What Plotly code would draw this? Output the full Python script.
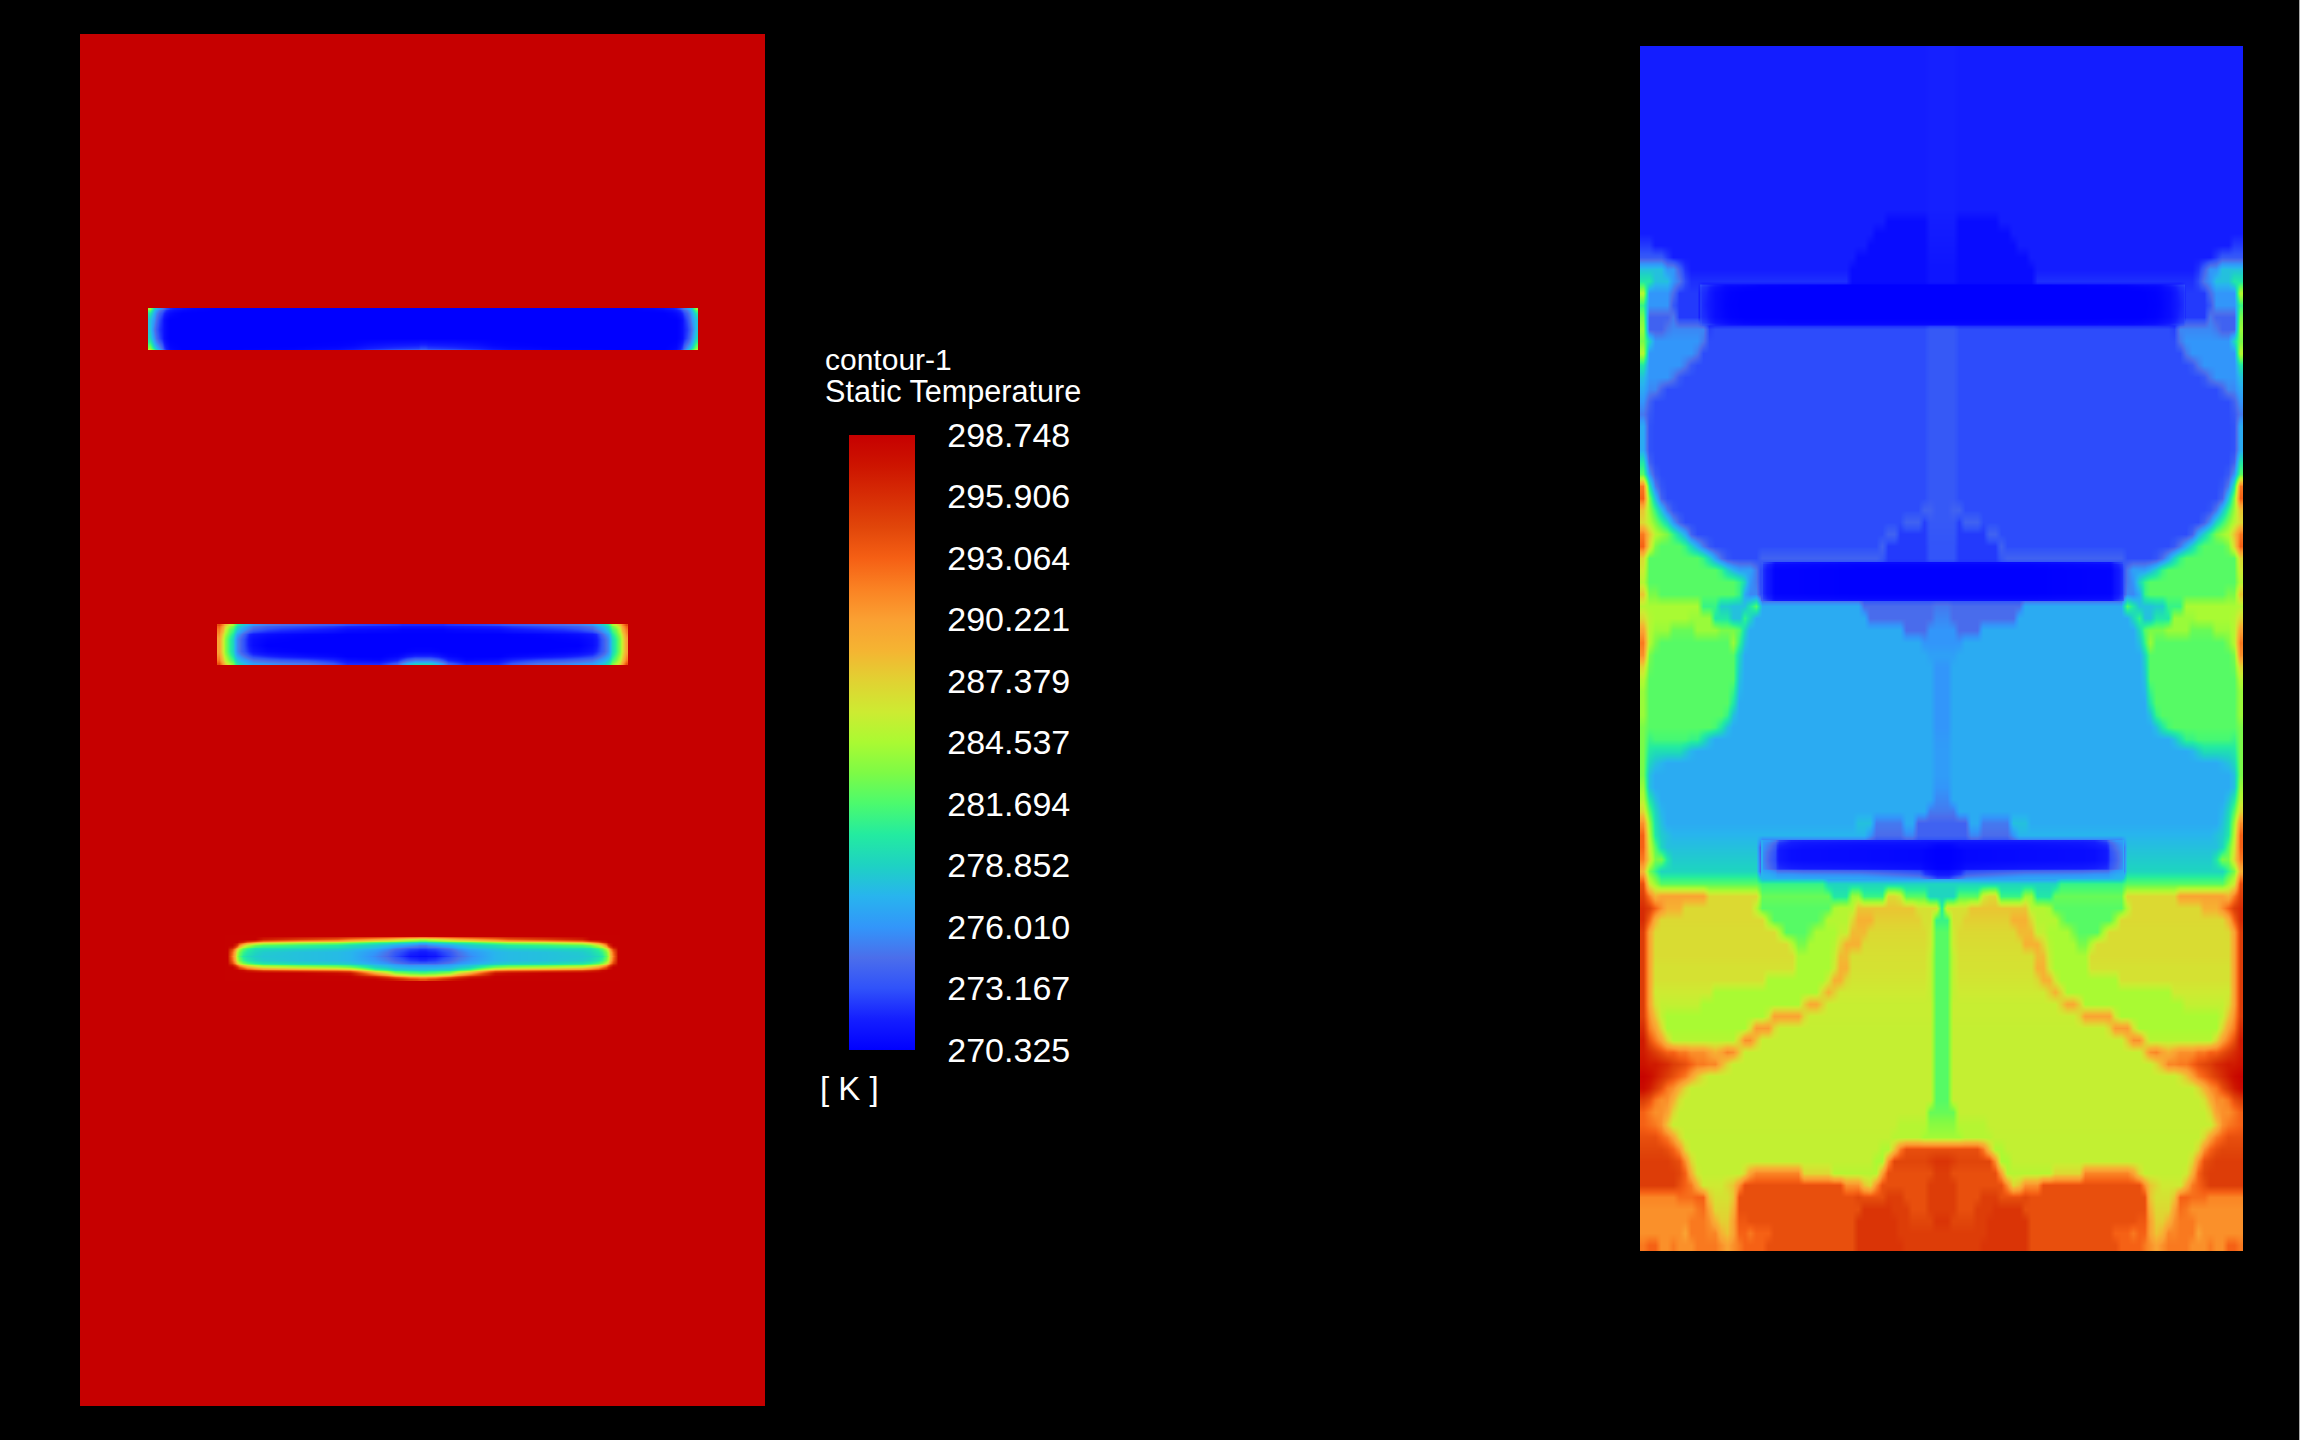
import plotly.graph_objects as go

W, H = 2304, 1440
TMIN, TMAX = 270.325, 298.748
TICK_VALUES = [298.748, 295.906, 293.064, 290.221, 287.379, 284.537, 281.694, 278.852, 276.010, 273.167, 270.325]
TICK_LABELS = ["298.748", "295.906", "293.064", "290.221", "287.379", "284.537", "281.694", "278.852", "276.010", "273.167", "270.325"]

RAINBOW = [(0,0,255),(20,30,255),(48,82,250),(75,110,235),(50,150,250),(40,180,238),(30,210,195),
           (35,235,160),(75,250,110),(125,250,70),(170,250,50),(205,235,50),(225,210,50),(245,180,50),
           (250,160,50),(250,130,35),(245,95,20),(225,70,10),(215,45,5),(205,20,0),(198,0,0)]

# Left panel: background and three cold bands (half-width tables, mirrored)
LEFT_BACKGROUND = [[298.748, 298.748], [298.748, 298.748]]

BAND1_X = [0,4,8,14,18,26,44,96,190,220,270,275]
BAND1_Y = [0,2,8,16,26,34,40,42]
BAND1_T = [
 [284,279,276,274,272,271,270.3,270.3,270.3,270.3,270.3],
 [280,277,274,272,270.8,270.3,270.3,270.3,270.3,270.3,270.3],
 [278,276,273,271,270.3,270.3,270.3,270.3,270.3,270.3,270.3],
 [278,275,272.5,271,270.3,270.3,270.3,270.3,270.3,270.3,270.3],
 [279,276,273,271,270.3,270.3,270.3,270.3,270.3,270.3,270.3],
 [282,278,275,272,270.5,270.3,270.3,270.3,270.6,271.5,272],
 [285,281,277,273,270.8,270.3,270.3,270.5,271.5,273,274],
]

BAND2_X = [0,4,8,16,20,28,36,64,116,144,180,190,205.5]
BAND2_Y = [0,2,8,12,18,24,30,34,38,41]
BAND2_T = [
 [294,291,286,282,279,277,275,274,273,272.5,272,272],
 [292,289,283,280,277,275,273,272,271,270.8,270.5,270.5],
 [291,287,282,278,275,272,271,270.5,270.3,270.3,270.3,270.3],
 [290,286,281,277,274,271.5,270.5,270.3,270.3,270.3,270.3,270.3],
 [290,286,281,277,274,271.5,270.3,270.3,270.3,270.3,270.3,270.3],
 [290,286,281,277,274,272,270.6,270.3,270.3,270.3,270.3,270.5],
 [291,287,282,278,275.5,273.5,272,271,270.3,270.3,271,272],
 [292,288,283,279.5,277,275.5,274,273,271,270.6,273,275],
 [294,290,285,281,278.5,277,276,275,272,272,276,279],
]

BAND3_X = [0,4,10,14,22,38,112,138,162,178,192,197.5]
BAND3_Y = [0,2,6,8,12,14,20,22,28,30,34,36,40,42,46]
BAND3_T = [
 [298.7,298.7,298.7,298.7,298.7,298.7,298.7,298.7,298.7,298.7,298.7],
 [298.7,298.7,298.7,298.7,298.7,295,292,290,288,286,285],
 [298.7,298.7,298.7,296,291,286,284,282,281,280,279],
 [298.7,298.7,295,288,283,281,279.5,278.5,277,276,275],
 [298.7,296,289,283,280,279.5,278.5,277.5,275,273.5,273],
 [298.7,293,285,281,279,278,277.5,276,273.5,272,271.5],
 [298.7,292,284,280,278.5,278,277.5,275.5,273,271.2,270.8],
 [298.7,293,285,281,279,278,277.5,276,274,272.5,272],
 [298.7,296,290,285,282,280,279,277.5,276,275,275],
 [298.7,298.7,296,292,288,285,283,279,277.5,277,277],
 [298.7,298.7,298.7,298,295.5,293,291,283,279.5,279,278.5],
 [298.7,298.7,298.7,298.7,298.7,298.7,297.5,290,284,282.5,282],
 [298.7,298.7,298.7,298.7,298.7,298.7,298.7,296,291,288,287.5],
 [298.7,298.7,298.7,298.7,298.7,298.7,298.7,298.7,297,295,294],
]

# Right panel: left half of the symmetric field, one entry per row.
# Each row lists runs as: last column of the run, temperature, ...
FIELD_RUNS = [[47,271.7,50,271.8]] * 14 + [
 [40,271.7,47,270.9,50,271.7],
 [38,271.7,47,270.9,50,271.6],
 [1,272.5,37,271.7,47,270.9,50,271.5],
 [3,273.5,4,272.5,35,271.7,47,270.9,50,271.4],
 [3,278,5,276,6,274,7,272.3,34,271.7,47,270.9,50,271.3],
 [1,280,4,278,5,276,6,275,7,273,34,272.2,47,270.9,50,271.3],
 [0,285,4,276,5,274.5,9,272.5,50,270.3],
 [0,281,4,276,5,273.5,9,272.5,50,270.3],
 [0,283,4,274,5,275,9,272.5,50,270.3],
 [0,284,3,274,4,275,10,275.5,11,272.7,47,273,50,273.5],
 [0,283,1,279,9,276,10,275,11,273,47,273,50,273.5],
 [0,285,8,276,9,275,10,273,47,273,50,273.5],
 [0,280,6,276,7,275,8,273.5,47,273,50,273.5],
 [0,278,4,276,5,275,6,273.5,47,273,50,273.5],
 [0,277,2,275.5,3,274,47,273,50,273.5],
 [0,276,1,274,47,273,50,273.5],
 [0,275,1,273.5,47,273,50,273.5],
 [0,277,1,273.2,47,273,50,273.5],
 [0,277,1,273.2,47,273,50,273.5],
 [0,277,1,273.2,47,273,50,273.5],
 [0,280,1,274,47,273,50,273.5],
 [0,282,1,276,2,273.5,47,273,50,273.5],
 [0,292,1,280,2,275,3,273.3,47,273,50,273.5],
 [0,293,1,283,2,278,3,274,47,273,50,273.5],
 [0,288,1,284,2,281,3,278,4,275,5,273.3,46,273,48,274,50,273.5],
 [0,287,1,285,2,283,3,281,4,279,5,276,6,274,43,273,46,274,47,272.6,50,273.5],
 [0,292,1,288,2,285,3,284,4,283,5,281,6,279,7,277,8,274,40,273,42,274,47,272.5,50,273.4],
 [0,293,1,287,2,283,6,282,7,281,8,279,9,277,10,275,11,273.5,39,273,40,274,47,272.5,50,273.3],
 [0,287,9,282,10,281,11,279,12,276.5,13,274.5,14,273.3,19,273,39,274,40,273.5,47,272.5,50,273.3],
 [0,286,12,282,13,281,14,279,15,277.5,18,276.5,19,275,50,272],
 [0,285,15,282,16,281,17,279,18,276,19,275,50,272],
 [0,288,2,283,15,282,16,281,17,277,19,275.5,50,272],
 [0,285,9,284.5,12,281,14,278.5,17,278,18,280,19,282,36,277,48,274.5,50,275],
 [0,287,1,285,7,284.5,11,284,14,280,16,278,17,281,18,279,37,277,48,274.5,50,275.5],
 [0,290,1,285,4,284,8,282.5,12,284,15,283,16,282,17,279,43,277,47,274.5,50,276],
 [0,292,1,285,2,283,14,282,15,284,16,281,17,278,46,277,50,276],
 [0,291,1,283,15,282,16,279,47,277,50,276.5],
 [0,287,1,282.5,15,282,16,278.5,48,277,50,276],
 [0,285,15,282,16,278,48,277,50,276],
 [0,284,14,282,15,281,16,277.5,48,277,50,276],
 [0,284,14,282,15,280,48,277,50,276],
 [0,284,13,282,14,281,15,278,48,277,50,276],
 [0,283,11,282,12,281.5,13,280,14,278,48,277,50,276],
 [0,283,1,281,7,281.5,9,281,10,279.5,11,278,48,277,50,276.2],
 [0,283,1,280,6,279.5,7,278.5,8,277.5,48,277,50,276.3],
 [0,283,1,279,2,278,3,277.5,48,277,50,276.3],
 [0,283,1,278,48,277,50,276.3],
 [0,284,1,278,48,277,50,276],
 [0,285,1,280,2,278,48,277,50,275.5],
 [0,287,1,282,2,279,3,277.5,47,277,50,275],
 [0,291,1,284,2,279.5,3,278,35,277,38,278,43,275,45,277,50,274],
 [0,293,1,285,2,280,3,278.5,4,278,37,277.5,38,276,43,274.5,45,275.5,50,274],
 [0,293,1,286,2,282,3,279,19,278,50,272],
 [0,292,1,287,3,283,4,280,19,278.5,50,272],
 [0,289,1,283,2,281,19,279,50,272],
 [0,294,1,286,2,284,19,282,30,281,50,279],
 [0,295,1,292,2,289,10,290,19,287,31,282.5,34,280,36,284,40,281,42,287,43,286,47,282,50,279],
 [0,296,1,295,2,293,3,291,6,289,18,287,19,285,31,282,32,284.5,35,285,45,288,49,286.5,50,280],
 [0,296,1,293,2,289,20,287,21,284,29,282,30,283,34,285,35,287,38,289,46,287.5,48,286.5,50,281],
 [0,295,1,290,2,287,22,286.8,23,284.5,27,282,28,283,32,284.5,34,285.5,37,288.5,47,287,48,286,50,282],
 [0,295,1,290,24,286.8,25,285,27,283,31,284.5,32,285,33,287,36,289,47,286.8,48,286,50,282],
 [0,295,1,290,25,286.8,31,284.5,32,285.5,34,288.5,47,286.6,48,285.5,50,282],
 [0,295,1,290,25,286.5,31,284.5,32,286,34,289,47,286.5,48,285.5,50,282],
 [0,295,1,290,20,286.5,30,284.5,31,286,33,289,34,287,47,286.3,48,285.5,50,282],
 [0,295,1,290,11,286,29,284.5,30,287,31,289,32,287.5,47,286,48,285.5,50,282],
 [0,295,1,290,2,286.5,9,285.5,26,284.5,27,287.5,29,289.5,30,287.5,48,285.7,50,282],
 [0,295,1,291,2,288,3,285.5,20,284.5,21,286,26,290,27,287,48,285.7,50,282],
 [0,296,1,292,2,290,3,287,17,284.5,18,286.5,21,290.5,22,287,48,285.6,50,282],
 [0,297,1,294,2,292,3,290,4,287,15,285,16,287.5,18,291,19,288,48,285.6,50,282],
 [0,297,1,296,2,295,3,294,5,293,7,292,10,291,11,290,12,289,13,290,14,291.5,15,291,16,288,48,285.6,50,282],
 [0,297.5,2,297,3,296.5,4,296,5,295,6,294.5,7,294,8,293,10,292,12,291.5,13,289,14,287,48,285.6,50,282],
 [0,298.5,1,298,2,297,3,296,4,295,5,294,6,293,7,292,8,290,9,288,10,286.5,48,285.6,50,282],
 [0,298,1,297,2,295.5,3,294,4,292,5,291,6,289,7,287,48,285.6,50,282],
 [0,295,1,294,2,292,4,291,5,289,6,286.5,48,285.6,50,282],
 [0,293,1,292,3,291,4,290,5,287,47,285.6,50,282.5],
 [0,293,1,292.5,2,292,3,291,4,288,42,285.6,47,285,50,283.5],
 [2,294,3,293,4,292,5,290,6,287,41,285.5,46,285,50,284.3],
 [3,294.5,4,294,5,293,6,291,7,287,39,285.5,41,284.7,42,288,43,292,50,294],
 [4,295,5,294.5,6,294,7,291,8,287,38,285.5,40,284.5,41,291,47,294.5,48,295,50,295.5],
 [5,295,6,294.5,7,293,8,289,9,286,16,285.5,17,287,18,290,26,291.5,31,287,39,285,40,290,48,294,50,295],
 [5,295,6,294,7,293,8,292,9,289,13,286,14,287,15,288,16,291,33,294,36,291,37,288,38,287,39,291,47,294,50,295],
 [5,291.5,8,292.5,10,293,11,288,14,286.5,15,288,35,294,36,294.5,40,294,43,295,47,294,50,295],
 [8,291,9,292,10,292.5,11,290,14,287,15,289,36,294,41,295.5,44,295,47,294,50,295],
 [7,291,10,292,11,291,12,289,14,287.5,15,290,17,293.5,35,294,42,295.5,44,295,48,294.5,50,295.5],
 [6,291,7,290,10,292,12,291.5,13,289,14,288,15,290,17,293,18,292,21,293,35,294,42,295.5,50,295],
 [0,292,2,293,4,291,5,292,8,291,12,292,13,291,14,290,15,291,16,292,20,293,35,294,43,295.5,50,295],
]

BLOCK1_X = [0,2,10,20,30,60,242.5]
BLOCK1_Y = [0,2,14,26,38,41]
BLOCK1_T = [
 [273,272.5,271.7,271,270.8,270.3],
 [272.5,272,271,270.6,270.3,270.3],
 [272.5,271.8,271,270.5,270.3,270.3],
 [272.5,272,271,270.6,270.3,270.3],
 [274,273,272,271.5,271,270.8],
]
BLOCK2_X = [0,2,10,14,181.5]
BLOCK2_Y = [0,2,14,26,36,39]
BLOCK2_T = [
 [273.5,272.5,271.7,270.8],
 [273,271.5,270.7,270.3],
 [273,271.5,270.7,270.3],
 [273,271.5,270.7,270.3],
 [274,272.5,271.5,271],
]
BLOCK3_X = [0,2,14,18,42,158,170,181.5]
BLOCK3_Y = [0,2,8,12,28,30,38,39]
BLOCK3_T = [
 [277,276,274,272,271.7,271.5,271.5],
 [277,275,272.5,271.5,271,271,270.6],
 [277,274.5,272,271,270.8,270.5,270.3],
 [277,274,272,271,270.8,270.5,270.3],
 [277,275,273,272.5,272,271,270.5],
 [277.5,277,276,276,275.5,272.5,271.5],
 [278,278,278,278,278,277,274],
]

LEFT_BOX = (80, 34, 765, 1406)
RIGHT_BOX = (1640, 46, 2243, 1251)
BAND_ORIGINS = [(68, 274), (137, 590), (145, 901)]
BLOCK_ORIGINS = [(60, 238.5), (121, 516), (121, 794)]

colorscale = [[i / (len(RAINBOW) - 1), "rgb(%d,%d,%d)" % c] for i, c in enumerate(RAINBOW)]


def mirrored_edges(edges):
    return edges + [2 * edges[-1] - e for e in reversed(edges[:-1])]


def mirrored_table(table):
    return [row + row[::-1] for row in table]


def expand_runs(runs):
    """Write out one run-length row; the centre column is shared by both halves."""
    row = []
    for end, value in zip(runs[0::2], runs[1::2]):
        row += [value] * (end + 1 - len(row))
    return row + row[-2::-1]


def add_patch(fig, xedges, yedges, table, origin, xaxis, yaxis):
    xe = [origin[0] + v for v in mirrored_edges(xedges)]
    ye = [origin[1] + v for v in yedges]
    fig.add_trace(go.Heatmap(x=xe, y=ye, z=mirrored_table(table), coloraxis="coloraxis",
                             zsmooth="best", xaxis=xaxis, yaxis=yaxis, hoverinfo="skip"))


fig = go.Figure()

lw, lh = LEFT_BOX[2] - LEFT_BOX[0], LEFT_BOX[3] - LEFT_BOX[1]
rw, rh = RIGHT_BOX[2] - RIGHT_BOX[0], RIGHT_BOX[3] - RIGHT_BOX[1]

fig.add_trace(go.Heatmap(x=[0, lw / 2, lw], y=[0, lh / 2, lh], z=LEFT_BACKGROUND, coloraxis="coloraxis",
                         zsmooth=False, xaxis="x", yaxis="y", hoverinfo="skip"))
add_patch(fig, BAND1_X, BAND1_Y, BAND1_T, BAND_ORIGINS[0], "x", "y")
add_patch(fig, BAND2_X, BAND2_Y, BAND2_T, BAND_ORIGINS[1], "x", "y")
add_patch(fig, BAND3_X, BAND3_Y, BAND3_T, BAND_ORIGINS[2], "x", "y")

field = [expand_runs(r) for r in FIELD_RUNS]
n_rows, n_cols = len(field), len(field[0])
field_x = [rw * i / n_cols for i in range(n_cols + 1)]
field_y = [rh * j / n_rows for j in range(n_rows + 1)]
fig.add_trace(go.Heatmap(x=field_x, y=field_y, z=field, coloraxis="coloraxis",
                         zsmooth="best", xaxis="x2", yaxis="y2", hoverinfo="skip"))
add_patch(fig, BLOCK1_X, BLOCK1_Y, BLOCK1_T, BLOCK_ORIGINS[0], "x2", "y2")
add_patch(fig, BLOCK2_X, BLOCK2_Y, BLOCK2_T, BLOCK_ORIGINS[1], "x2", "y2")
add_patch(fig, BLOCK3_X, BLOCK3_Y, BLOCK3_T, BLOCK_ORIGINS[2], "x2", "y2")


def hidden_axis(rng, domain):
    return dict(range=rng, domain=domain, visible=False, showgrid=False, zeroline=False, fixedrange=True)


def text(x, y, s, size=31):
    return dict(x=x / W, y=1 - y / H, xref="paper", yref="paper", text=s, showarrow=False,
                xanchor="left", yanchor="middle", font=dict(family="Liberation Sans", size=size, color="#ffffff"))


fig.update_layout(
    width=W, height=H,
    margin=dict(l=0, r=0, t=0, b=0, pad=0, autoexpand=False),
    paper_bgcolor="#000000", plot_bgcolor="#000000", showlegend=False,
    xaxis=dict(hidden_axis([0, lw], [LEFT_BOX[0] / W, LEFT_BOX[2] / W]), anchor="y"),
    yaxis=dict(hidden_axis([lh, 0], [1 - LEFT_BOX[3] / H, 1 - LEFT_BOX[1] / H]), anchor="x"),
    xaxis2=dict(hidden_axis([0, rw], [RIGHT_BOX[0] / W, RIGHT_BOX[2] / W]), anchor="y2"),
    yaxis2=dict(hidden_axis([rh, 0], [1 - RIGHT_BOX[3] / H, 1 - RIGHT_BOX[1] / H]), anchor="x2"),
    coloraxis=dict(
        colorscale=colorscale, cmin=TMIN, cmax=TMAX,
        colorbar=dict(
            x=849 / W, xanchor="left", xpad=0, y=1 - 1050 / H, yanchor="bottom", ypad=0,
            thicknessmode="pixels", thickness=66, lenmode="pixels", len=615,
            tickmode="array", tickvals=TICK_VALUES, ticktext=TICK_LABELS,
            ticks="outside", ticklen=26, tickwidth=1, tickcolor="rgba(0,0,0,0)",
            tickfont=dict(family="Liberation Sans", size=34, color="#ffffff"),
            outlinewidth=0, borderwidth=0, bgcolor="rgba(0,0,0,0)",
        ),
    ),
    annotations=[
        text(823, 359, "contour-1", 30),
        text(823, 391, "Static Temperature", 30.6),
        text(818, 1088, "[ K ]", 33),
    ],
    shapes=[
        dict(type="rect", xref="paper", yref="paper", x0=2299 / W, x1=2300 / W, y0=0, y1=1,
             fillcolor="#aaaaaa", line_width=0),
        dict(type="rect", xref="paper", yref="paper", x0=2300 / W, x1=1, y0=0, y1=1,
             fillcolor="#ffffff", line_width=0),
    ],
)

fig.write_html("out.html", config=dict(displayModeBar=False),
               post_script="document.body.style.margin='0';document.body.style.background='#000';")
